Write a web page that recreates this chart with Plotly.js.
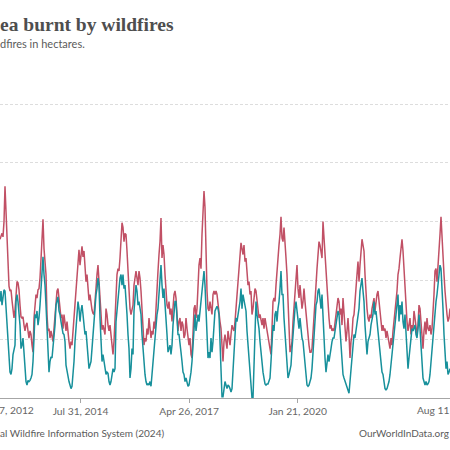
<!DOCTYPE html>
<html>
<head>
<meta charset="utf-8">
<script src="https://cdn.plot.ly/plotly-3.0.1.min.js"></script>
<style>
html,body{margin:0;padding:0;overflow:hidden;background:#ffffff;}
#chart{width:450px;height:450px;}
</style>
</head>
<body>
<div id="chart"></div>
<script>
// ---- text, as visible in the picture ----
const chartTitle = 'ea burnt by wildfires';
const chartSubtitle = 'dfires in hectares.';
const sourceNote = 'al Wildfire Information System (2024)';
const siteName = 'OurWorldInData.org';
const seriesNames = ['World', 'Africa'];

// ---- x axis: sampling grid of the readings and tick labels ----
const sampleStart = '2012-07-19';
const sampleStepDays = 9.21;
const tickDates = ['2014-07-31', '2017-04-26', '2020-01-21'];
const tickLabels = ['Jul 31, 2014', 'Apr 26, 2017', 'Jan 21, 2020'];
const firstDateLabel = '7, 2012';
const lastDateLabel = 'Aug 11';

// ---- y axis (million hectares) ----
const yTicks = [0, 5, 10, 15, 20, 25];

// ---- series values (million hectares) ----
const worldValues = [
13.5,13.7,14.0,13.7,15.0,18.0,15.9,13.0,10.8,9.5,
9.1,9.2,8.3,7.4,6.8,7.5,9.3,9.9,9.8,9.2,
7.9,6.9,6.8,6.9,6.2,5.7,6.2,6.4,5.7,5.1,
5.7,5.4,4.5,3.9,6.8,8.2,8.8,8.5,9.2,9.3,
10.2,11.8,13.3,15.2,12.7,11.9,10.5,7.1,5.7,5.9,
5.1,5.7,5.1,4.8,5.9,7.1,8.8,9.1,9.3,8.5,
7.1,6.8,7.1,5.9,7.1,6.2,5.7,6.5,5.4,4.8,
4.2,4.8,4.5,5.7,7.1,7.6,9.1,10.2,11.6,12.6,
11.3,12.2,12.9,12.0,12.5,11.2,9.9,10.5,9.2,8.3,
8.8,7.8,7.5,7.2,7.1,8.2,9.6,10.5,11.3,9.9,
7.8,7.1,5.8,6.2,5.7,5.4,7.6,7.1,6.2,5.7,
6.2,5.4,4.5,3.7,4.8,6.8,
8.8,10.5,11.0,10.8,11.9,13.6,14.9,14.5,13.3,14.0,
13.9,12.5,10.5,9.6,7.6,7.1,7.6,7.9,9.6,10.5,
10.8,10.2,9.6,10.8,10.2,9.1,7.1,5.9,4.5,5.1,
4.8,5.9,5.4,6.8,5.7,5.1,5.7,5.4,6.5,5.9,
7.6,8.8,10.8,12.2,13.3,15.3,11.9,13.0,12.2,10.5,
8.8,7.9,7.6,8.2,7.1,7.6,6.5,8.2,8.8,9.1,
8.5,7.1,5.7,6.5,6.8,5.7,6.5,6.2,5.1,5.4,
6.8,5.9,4.8,4.5,5.1,3.7,3.4,5.7,7.6,7.9,
6.8,7.6,9.9,11.3,11.9,11.0,13.9,16.2,17.6,16.2,
11.6,9.1,7.6,7.4,8.2,7.6,7.1,8.8,9.1,8.8,
9.1,8.8,7.9,7.1,6.5,5.9,4.8,3.1,4.8,5.4,
4.8,4.2,
5.7,4.8,4.5,5.4,6.2,5.9,5.7,6.5,7.6,8.5,
9.1,10.5,11.6,13.2,12.7,12.2,13.0,11.6,11.9,10.5,
9.6,9.9,8.8,9.1,7.1,7.6,8.5,9.3,9.1,8.2,
7.6,6.8,7.1,6.5,6.2,6.8,5.9,6.8,6.2,5.7,
5.4,4.8,4.2,3.7,6.2,8.2,8.5,8.2,9.6,11.0,
12.5,13.0,13.9,15.4,13.6,13.3,14.5,12.7,11.9,10.5,
7.6,5.4,3.9,4.2,4.8,6.5,7.6,9.1,10.5,11.3,
9.3,8.5,9.6,8.8,7.6,8.2,9.3,8.2,7.1,6.2,
5.4,4.5,3.9,3.9,4.2,5.4,6.5,7.6,9.6,11.0,
12.2,13.3,13.0,12.5,11.9,15.0,13.6,12.2,10.5,8.8,
7.6,6.8,5.9,6.2,5.7,5.9,5.7,6.5,7.1,7.9,
8.5,8.2,
7.1,7.6,6.2,8.5,7.1,5.9,4.8,5.7,6.8,5.4,
3.4,4.8,5.4,6.8,7.1,8.2,9.9,10.5,11.6,9.9,
11.3,12.2,13.5,13.0,12.5,10.5,8.2,7.6,6.8,6.5,
7.1,6.8,7.6,8.2,8.5,7.4,8.2,8.8,9.1,8.2,
7.1,6.2,5.7,6.2,5.7,5.9,5.1,5.7,5.1,4.8,
4.2,5.1,4.5,5.7,6.5,7.6,8.2,9.1,10.5,11.0,
11.9,12.7,13.5,12.5,11.0,8.8,7.6,6.5,5.7,6.2,
6.8,5.4,6.2,5.9,7.4,6.8,5.7,5.4,6.2,7.9,
7.6,6.2,4.8,4.2,5.7,6.5,5.4,6.8,5.9,5.7,
6.2,5.4,5.9,7.1,8.8,10.8,11.0,9.9,11.6,12.5,
13.9,15.4,13.3,12.2,10.5,9.1,7.6,7.1,6.5,6.8,
7.6
];
const africaValues = [
8.2,9.1,7.9,8.8,9.2,9.1,7.6,5.7,4.2,3.1,
2.2,2.0,2.5,3.7,4.2,4.5,8.2,8.8,8.2,7.1,
6.2,4.2,4.5,5.1,3.7,2.5,1.4,1.1,1.5,1.4,
1.5,1.7,2.0,3.1,5.4,7.1,6.8,7.4,6.2,6.8,
7.9,9.6,10.5,12.0,10.5,9.6,7.9,5.4,3.4,2.2,
3.1,3.5,3.4,4.2,5.4,6.2,7.9,8.3,8.6,7.4,
7.1,6.5,5.7,5.5,5.4,4.8,2.8,2.2,2.0,1.4,
1.1,0.8,1.0,2.0,3.1,4.8,6.2,7.1,8.2,7.6,
6.5,7.4,7.9,7.1,6.2,5.4,5.7,4.5,3.9,2.5,
2.8,3.1,4.2,5.7,6.5,7.6,8.8,9.3,10.2,9.6,
6.8,4.2,3.1,3.7,3.1,2.5,2.0,2.2,2.1,1.4,
1.1,1.4,2.0,2.5,2.2,2.5,
6.5,7.6,8.2,9.3,10.2,10.5,9.6,10.5,9.3,9.6,
7.6,7.1,5.4,4.2,1.7,2.5,4.2,3.7,7.4,8.8,
9.6,9.1,7.9,8.2,7.6,7.1,5.4,3.9,2.8,2.0,
1.4,1.1,1.2,1.1,1.4,1.0,2.0,3.1,4.2,5.1,
6.2,7.1,7.6,8.8,10.5,11.3,9.6,8.5,9.3,7.6,
7.1,5.4,3.9,4.2,4.5,3.7,4.5,6.2,7.6,8.2,
8.2,6.8,5.4,5.4,4.8,3.9,3.1,2.2,2.0,1.4,
1.7,1.2,1.0,1.1,1.5,2.2,3.1,4.8,5.9,7.1,
5.7,6.8,7.1,6.5,7.4,8.2,9.6,10.5,10.8,9.6,
7.1,4.2,3.4,3.9,3.4,5.1,3.9,4.8,5.9,7.4,
7.6,7.8,7.6,7.1,4.8,2.0,0.1,0.1,0.8,1.4,
1.1,0.8,
1.1,1.0,0.8,0.5,0.8,2.2,4.5,5.7,6.8,6.5,
7.1,7.6,8.2,9.3,7.6,8.8,8.2,7.9,7.4,5.7,
4.5,3.9,2.8,1.4,0.0,0.0,3.4,6.8,8.2,7.1,
6.5,5.9,4.8,3.7,2.5,2.2,1.7,1.2,1.1,1.2,
1.2,1.5,1.7,3.1,4.8,6.2,5.7,7.1,7.4,6.5,
7.6,8.2,9.3,10.8,8.8,8.8,6.8,5.4,4.2,2.8,
1.7,2.0,2.5,2.8,4.2,5.7,6.8,7.6,8.2,7.4,
6.5,5.9,6.8,5.7,5.1,4.8,3.7,2.5,1.7,1.1,
1.0,1.1,1.4,1.7,2.5,3.7,5.7,6.8,7.9,8.2,
9.1,9.3,8.5,7.6,8.8,6.5,4.5,3.4,2.2,2.8,
3.7,3.1,3.9,4.2,4.8,5.1,5.1,5.7,6.2,7.1,
7.4,7.1,
5.7,4.8,3.1,2.0,1.7,1.4,1.2,0.8,0.5,0.4,
1.4,2.5,3.1,4.2,5.4,5.1,5.7,6.2,6.8,7.6,
9.1,9.6,10.2,9.1,8.2,6.2,4.2,3.7,4.8,5.1,
5.4,6.2,6.8,7.1,8.2,7.1,7.4,6.5,5.7,4.8,
3.7,2.8,2.2,2.0,1.4,0.8,0.7,0.8,1.1,1.4,
2.0,2.8,3.7,4.5,5.4,6.5,7.1,8.2,8.8,6.5,
7.9,7.1,8.2,6.5,5.9,7.1,5.4,3.7,2.5,3.4,
4.2,5.1,5.9,5.7,5.9,6.2,5.4,5.1,5.9,7.1,
5.9,4.5,2.8,1.7,1.4,1.1,1.4,1.1,1.2,1.4,
2.0,3.1,4.2,5.1,6.5,7.1,8.2,8.8,9.6,10.5,
11.3,11.0,9.6,7.6,5.4,3.7,2.5,3.1,2.0,2.2,
2.5
];

// ---- build the date grid of the readings ----
function fmtDate(ms) {
  return new Date(ms).toISOString().slice(0, 16).replace('T', ' ');
}
const startMs = Date.parse(sampleStart + 'T00:00:00Z');
const sampleDates = worldValues.map((_, i) => fmtDate(startMs + i * sampleStepDays * 86400000));

// ---- layout constants ----
const W = 450, H = 450;
const M = {l: 0, r: 0, t: 98, b: 52};
const plotH = H - M.t - M.b;
const gridTopPx = 104;                    // screen row of the top gridline
const yMax = yTicks[yTicks.length - 1] * plotH / (H - M.b - gridTopPx);
const px = v => v / W;                    // screen x -> paper
const py = v => (H - M.b - v) / plotH;    // screen y -> paper

const textGrey = '#5b5b5b';
const axisGrey = '#a6a6a6';

const traces = [
  {x: sampleDates, y: worldValues, name: seriesNames[0], type: 'scatter', mode: 'lines',
   line: {color: '#c15065', width: 1.5}, hoverinfo: 'skip'},
  {x: sampleDates, y: africaValues, name: seriesNames[1], type: 'scatter', mode: 'lines',
   line: {color: '#17909b', width: 1.5}, hoverinfo: 'skip'}
];

const ann = (text, x, y, xanchor, font) => ({
  text, x, y, xref: 'paper', yref: 'paper', xanchor, yanchor: 'middle',
  showarrow: false, font, borderpad: 0, borderwidth: 0
});

const layout = {
  width: W, height: H,
  margin: {l: M.l, r: M.r, t: M.t, b: M.b, pad: 0},
  paper_bgcolor: '#ffffff', plot_bgcolor: '#ffffff',
  showlegend: false,
  xaxis: {
    type: 'date',
    range: [sampleDates[0], sampleDates[sampleDates.length - 1]],
    showgrid: false, zeroline: false,
    showline: true, linecolor: axisGrey, linewidth: 1,
    ticks: 'outside', ticklen: 4, tickcolor: axisGrey, tickwidth: 1,
    tickmode: 'array', tickvals: tickDates, ticktext: tickLabels,
    tickfont: {family: 'Lato', size: 10.3, color: '#666666'},
    fixedrange: true
  },
  yaxis: {
    range: [0, yMax],
    tickmode: 'array', tickvals: yTicks,
    showticklabels: false, ticks: '',
    showgrid: true, gridcolor: '#dddddd', gridwidth: 1, griddash: '3px,2px',
    zeroline: false, showline: false, fixedrange: true
  },
  annotations: [
    ann('<b>' + chartTitle + '</b>', px(0), py(25), 'left',
        {family: 'Liberation Serif', size: 19.5, color: '#4e4e4e'}),
    ann(chartSubtitle, px(0), py(43.5), 'left',
        {family: 'Lato', size: 11, color: textGrey}),
    ann(firstDateLabel, px(34), py(409.5), 'right',
        {family: 'Lato', size: 10.3, color: '#666666'}),
    ann(lastDateLabel, px(417), py(409.5), 'left',
        {family: 'Lato', size: 10.3, color: '#666666'}),
    ann(sourceNote, px(0), py(432.5), 'left',
        {family: 'Lato', size: 10, color: textGrey}),
    ann(siteName, px(449), py(432.5), 'right',
        {family: 'Lato', size: 10, color: textGrey})
  ]
};

Plotly.newPlot('chart', traces, layout, {staticPlot: true, displayModeBar: false});
</script>
</body>
</html>
